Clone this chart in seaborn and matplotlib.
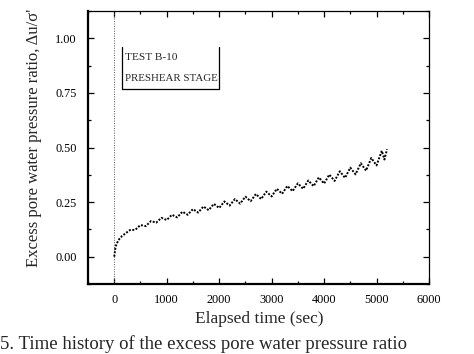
import matplotlib
matplotlib.use("Agg")
import matplotlib.pyplot as plt
import seaborn as sns
import pandas as pd
from matplotlib.ticker import MultipleLocator

# elapsed time (sec) and excess pore water pressure ratio
time_sec = [0, 25, 50, 100, 150, 200, 300, 400, 500, 600, 700, 800, 900, 1000,
            1100, 1200, 1300, 1400, 1500, 1600, 1700, 1800, 1900, 2000,
            2100, 2200, 2300, 2400, 2500, 2600, 2700, 2800, 2900, 3000,
            3100, 3200, 3300, 3400, 3500, 3600, 3700, 3800, 3900, 4000,
            4100, 4200, 4300, 4400, 4500, 4600, 4700, 4800, 4900, 5000,
            5100, 5150, 5200]
pp_ratio = [0.0, 0.045, 0.062, 0.082, 0.095, 0.104, 0.122, 0.123, 0.145, 0.140,
            0.163, 0.156, 0.178, 0.168, 0.192, 0.180, 0.206, 0.192, 0.218, 0.202,
            0.230, 0.213, 0.242, 0.223, 0.253, 0.234, 0.264, 0.243, 0.275, 0.254,
            0.287, 0.264, 0.298, 0.276, 0.311, 0.288, 0.324, 0.300, 0.336, 0.311,
            0.349, 0.323, 0.363, 0.335, 0.376, 0.347, 0.391, 0.361, 0.408, 0.377,
            0.428, 0.394, 0.452, 0.418, 0.485, 0.445, 0.492]

x_ticks = [0, 1000, 2000, 3000, 4000, 5000, 6000]
y_ticks = [0.00, 0.25, 0.50, 0.75, 1.00]
box_lines = ["TEST B-10", "PRESHEAR STAGE"]
caption = "5. Time history of the excess pore water pressure ratio"

df = pd.DataFrame({"t": time_sec, "r": pp_ratio})

sns.set_style("ticks")
plt.rcParams["font.family"] = ["Liberation Serif", "DejaVu Serif"]

fig = plt.figure(figsize=(4.74, 3.54), dpi=100)
ax = fig.add_axes([88 / 474, 1 - 284 / 354, 341 / 474, 273 / 354])

ax.axvline(0, color="#555555", lw=0.7, ls=(0, (1, 1.5)))
sns.lineplot(data=df, x="t", y="r", ax=ax, color="black", lw=1.4,
             linestyle=(0, (1, 0.8)), estimator=None, sort=False)

ax.set_xlim(-500, 6000)
ax.set_ylim(-0.125, 1.125)
ax.set_xticks(x_ticks)
ax.set_xticklabels([str(v) for v in x_ticks])
ax.set_yticks(y_ticks)
ax.set_yticklabels([f"{v:.2f}" for v in y_ticks])
ax.xaxis.set_minor_locator(MultipleLocator(500))
ax.yaxis.set_minor_locator(MultipleLocator(0.125))
ax.tick_params(which="both", direction="in", top=True, right=True,
               colors="black", labelsize=8.8, width=0.9)
ax.tick_params(which="major", length=4)
ax.tick_params(which="minor", length=2.5)
ax.tick_params(axis="x", pad=7)
ax.tick_params(axis="y", pad=8)

for side in ["left", "bottom"]:
    ax.spines[side].set_linewidth(1.6)
for side in ["top", "right"]:
    ax.spines[side].set_linewidth(0.9)
for sp in ax.spines.values():
    sp.set_color("black")

ax.set_xlabel("Elapsed time (sec)", fontsize=12.5)
ax.set_ylabel("Excess pore water pressure ratio, Δu/σ'", fontsize=12)
ax.xaxis.set_label_coords(0.503, -0.1)
ax.yaxis.set_label_coords(-0.135, 0.535)

# boxed annotation (open top, as in the original)
bx0, bx1, by0, by1 = 0.0997, 0.384, 0.714, 0.868
ax.plot([bx0, bx0, bx1, bx1], [by1, by0, by0, by1], color="black", lw=0.9,
        transform=ax.transAxes, clip_on=False)
ax.text(0.108, 0.828, box_lines[0], transform=ax.transAxes, fontsize=8.2,
        va="center", ha="left")
ax.text(0.108, 0.752, box_lines[1], transform=ax.transAxes, fontsize=7.8,
        va="center", ha="left")

fig.text(0.0, 0.002, caption, fontsize=13.5, ha="left", va="bottom")

fig.savefig("out.png", dpi=100)
